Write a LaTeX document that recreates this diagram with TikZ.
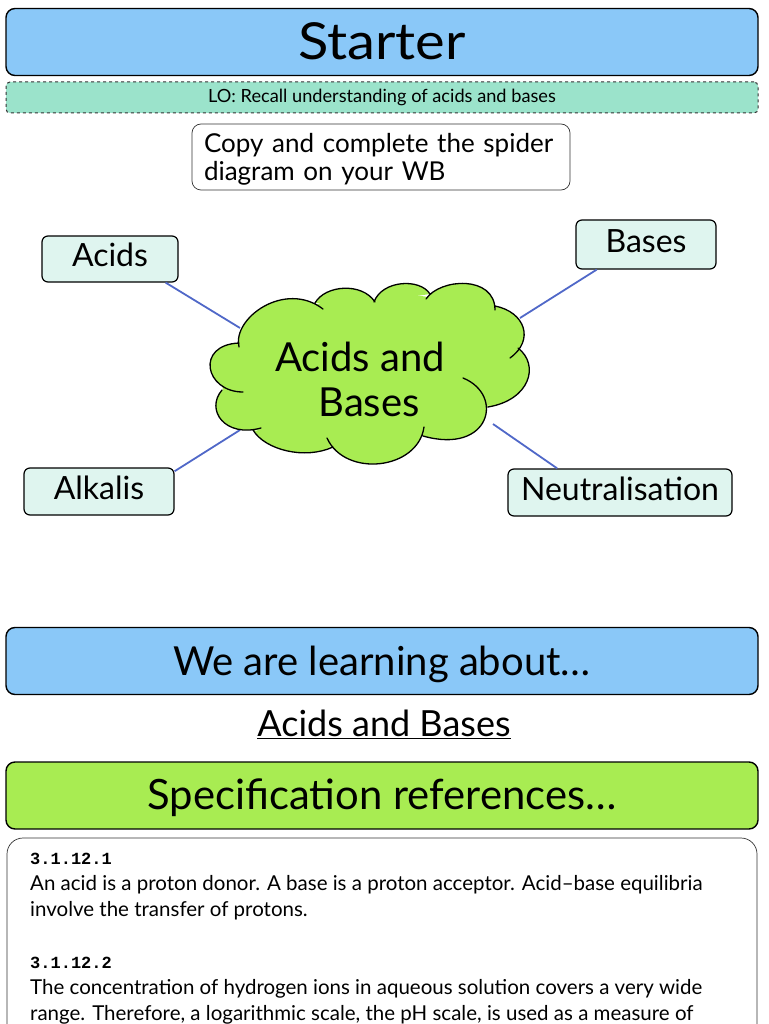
\documentclass[tikz,border=0pt]{standalone}
\usepackage{fontspec}
\setmainfont{Lato}
\newfontfamily\codefont{Liberation Mono}[BoldFont={Liberation Mono Bold}]
\newfontfamily\widefont{Lato}[FakeStretch=1.1]
\definecolor{skyfill}{HTML}{8AC8F8}
\definecolor{tealfill}{HTML}{9BE3CB}
\definecolor{limefill}{HTML}{A8EC52}
\definecolor{palefill}{HTML}{DFF5EF}
\definecolor{linkblue}{HTML}{5068C8}
\newcommand{\fsz}[2]{\fontsize{#1}{#2}\selectfont}
\tikzstyle{banner} = [draw=black, line width=1.4pt, rounded corners=9pt, inner sep=0pt, minimum width=752pt, minimum height=67pt, text height=30pt, text depth=2pt]
\tikzstyle{topic} = [draw=black, line width=1.2pt, rounded corners=6pt, fill=palefill, inner sep=0pt, font=\fsz{32}{36}, text height=21pt, text depth=6pt]
\tikzstyle{link} = [linkblue, line width=1.8pt]

\begin{document}
\begin{tikzpicture}[x=1pt,y=-1pt]
\useasboundingbox (0,0) rectangle (768,1024);

\node[banner,fill=skyfill,font=\widefont\fsz{51}{60},text height=36pt,text depth=0pt] (starter) at (382,42) {Starter};
\node[draw=black!80,dashed,line width=1pt,rounded corners=4pt,fill=tealfill,inner sep=0pt,minimum width=752pt,minimum height=31pt,font=\fsz{18.2}{20}] (lo) at (382,97.5) {LO: Recall understanding of acids and bases};
\node[draw=black!80,line width=0.7pt,rounded corners=9pt,inner sep=0pt,minimum width=378pt,minimum height=66pt,text width=354pt,align=left,font=\fsz{26}{28}] (copy) at (381,157) {\rule{0pt}{23pt}\mbox{Copy and complete the spider}\\diagram on your WB};

\node[topic,minimum width=136pt,minimum height=46pt] (acids) at (110,259) {Acids};
\node[topic,minimum width=140pt,minimum height=49pt] (bases) at (646,244.5) {Bases};
\node[topic,minimum width=150pt,minimum height=47pt] (alkalis) at (99,491.5) {Alkalis};
\node[topic,minimum width=224pt,minimum height=47pt] (neutral) at (620,492.5) {Neutralisation};

\coordinate (cloudA) at (240,328);
\coordinate (cloudB) at (520,318);
\coordinate (cloudC) at (240,430);
\coordinate (cloudD) at (493,424);

\foreach \from/\to in {acids.-23.5/cloudA,bases.207/cloudB,alkalis.15.6/cloudC,neutral.159.7/cloudD}
{
	\draw[link] (\from) -- (\to);
}

\def\cloudlobes{
(239,347) .. controls (232,318) and (285,280) .. (323,309)
(315,303) .. controls (325,285) and (362,282) .. (375,302)
(374,302) .. controls (382,280) and (420,278) .. (430,294)
(426,299) .. controls (440,278) and (495,275) .. (495,310)
(495,306) .. controls (525,312) and (535,340) .. (510,358)
(518,348) .. controls (540,365) and (530,400) .. (488,407)
(463,378) .. controls (505,395) and (490,455) .. (423,436)
(424,427) .. controls (418,470) and (345,478) .. (327,438)
(333,447) .. controls (305,460) and (265,450) .. (253,430)
(261,428) .. controls (225,438) and (205,410) .. (222,390)
(243,392) .. controls (205,392) and (195,345) .. (239,343)
}
\fill[limefill] \cloudlobes;
\fill[limefill] (240,344) -- (270,312) -- (317,304) -- (346,297) -- (375,302) -- (401,293) -- (428,297) -- (465,290) -- (495,307) -- (512,325) -- (516,347) -- (509,380) -- (488,406) -- (470,432) -- (424,435) -- (377,455) -- (331,446) -- (295,449) -- (256,430) -- (228,418) -- (223,390) -- (218,365) -- cycle;
\draw[black,line width=1.3pt,line cap=round] \cloudlobes;
\node[align=center,inner sep=0pt,font=\fsz{40}{45}] (cloud) at (360,379) {Acids and\\\hspace*{18pt}Bases};

\node[banner,fill=skyfill,font=\fsz{40}{44}] (learning) at (382,661) {We are learning about…};
\node[inner sep=0pt,font=\fsz{36}{40}] (topic) at (384,724) {\underline{Acids and Bases}};
\node[banner,fill=limefill,font=\fsz{41.8}{44}] (spec) at (382,795.5) {Specification references…};

\draw[black!80,line width=0.7pt,rounded corners=16pt] (7,1050) |- (757,838) -- (757,1050);
\node[anchor=north west,inner sep=0pt,align=left,font=\fsz{20.5}{26}] (refs) at (30,853) {{\codefont\bfseries\fsz{17}{26}3.1.12.1}\\An acid is a proton donor. A base is a proton acceptor. Acid–base equilibria\\involve the transfer of protons.\\[26pt]{\codefont\bfseries\fsz{17}{26}3.1.12.2}\\The concentration of hydrogen ions in aqueous solution covers a very wide\\range. Therefore, a logarithmic scale, the pH scale, is used as a measure of};

\end{tikzpicture}
\end{document}
